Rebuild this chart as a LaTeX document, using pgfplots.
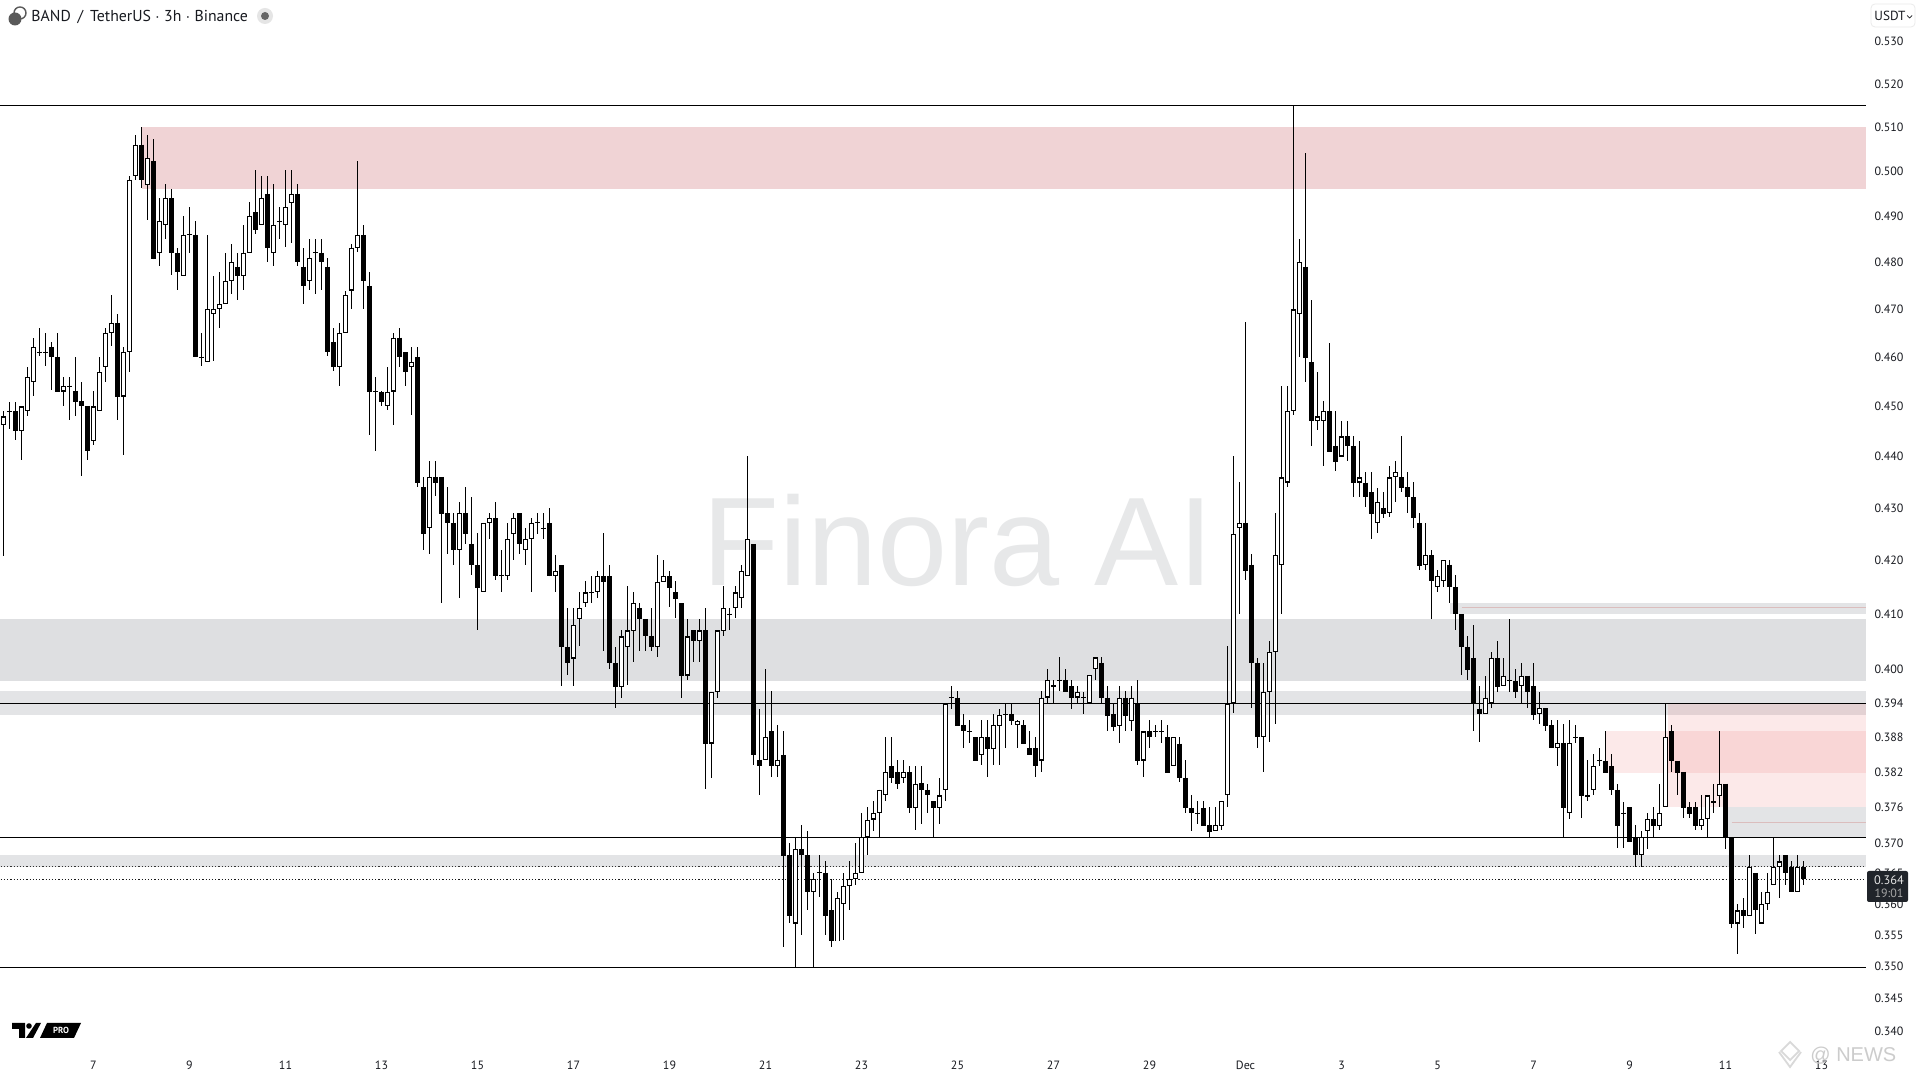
\documentclass[border=0pt]{standalone}
\usepackage{fontspec}
\usepackage{pgfplots}
\usepackage{pgfplotstable}
\pgfplotsset{compat=1.18}
\setmainfont{PT Sans}
\newfontfamily\wmfont{Liberation Sans}
\definecolor{redzone}{RGB}{240,211,213}
\definecolor{grayzone}{RGB}{222,223,225}
\definecolor{grayzoneb}{RGB}{227,228,230}
\definecolor{pinkzone}{RGB}{230,60,60}
\definecolor{wmark}{RGB}{231,232,233}
\definecolor{tagbg}{RGB}{32,36,42}
\definecolor{textc}{RGB}{24,26,32}

% i open high low close, 3h candles
\pgfplotstableread{
i o h l c
0 .4460 .4488 .4206 .4478
1 .4489 .4508 .4452 .4487
2 .4488 .4508 .4431 .4448
3 .4448 .4499 .4391 .4498
4 .4488 .4579 .4479 .4558
5 .4547 .4639 .4519 .4620
6 .4610 .4660 .4601 .4608
7 .4610 .4649 .4580 .4608
8 .4620 .4629 .4531 .4599
9 .4599 .4649 .4528 .4528
10 .4528 .4558 .4499 .4539
11 .4540 .4558 .4470 .4538
12 .4530 .4599 .4479 .4508
13 .4509 .4548 .4359 .4498
14 .4499 .4499 .4391 .4409
15 .4428 .4530 .4421 .4498
16 .4488 .4599 .4488 .4568
17 .4579 .4660 .4548 .4649
18 .4649 .4728 .4622 .4670
19 .4670 .4688 .4470 .4518
20 .4518 .4620 .4401 .4610
21 .4609 .4989 .4568 .4980
22 .4988 .5080 .4980 .5059
23 .5059 .5099 .4961 .4980
24 .4968 .5080 .4890 .5028
25 .5021 .5071 .4805 .4805
26 .4819 .4940 .4790 .4888
27 .4880 .4969 .4850 .4939
28 .4939 .4960 .4771 .4819
29 .4819 .4830 .4740 .4777
30 .4769 .4900 .4769 .4858
31 .4859 .4919 .4819 .4857
32 .4858 .4889 .4599 .4599
33 .4600 .4649 .4580 .4598
34 .4588 .4858 .4588 .4699
35 .4688 .4769 .4590 .4699
36 .4699 .4778 .4660 .4709
37 .4709 .4819 .4709 .4758
38 .4758 .4839 .4730 .4799
39 .4789 .4819 .4718 .4769
40 .4769 .4880 .4740 .4819
41 .4819 .4929 .4819 .4900
42 .4908 .5001 .4860 .4868
43 .4880 .4989 .4880 .4939
44 .4949 .4989 .4800 .4830
45 .4819 .4969 .4790 .4880
46 .4889 .4919 .4850 .4887
47 .4880 .5001 .4831 .4919
48 .4928 .5001 .4840 .4948
49 .4949 .4969 .4790 .4799
50 .4789 .4830 .4710 .4747
51 .4758 .4849 .4740 .4808
52 .4820 .4849 .4730 .4818
53 .4819 .4849 .4740 .4799
54 .4789 .4808 .4601 .4609
55 .4629 .4660 .4570 .4578
56 .4578 .4670 .4540 .4649
57 .4649 .4738 .4649 .4728
58 .4738 .4839 .4699 .4830
59 .4830 .5021 .4821 .4858
60 .4858 .4880 .4699 .4758
61 .4748 .4778 .4440 .4528
62 .4529 .4558 .4410 .4527
63 .4528 .4530 .4499 .4508
64 .4499 .4579 .4490 .4528
65 .4528 .4649 .4460 .4639
66 .4639 .4660 .4579 .4599
67 .4609 .4610 .4540 .4567
68 .4579 .4620 .4480 .4589
69 .4599 .4620 .4339 .4347
70 .4338 .4358 .4218 .4247
71 .4259 .4389 .4209 .4358
72 .4358 .4389 .4320 .4347
73 .4358 .4358 .4119 .4287
74 .4288 .4338 .4209 .4268
75 .4269 .4288 .4190 .4217
76 .4217 .4309 .4128 .4288
77 .4288 .4338 .4229 .4247
78 .4229 .4319 .4170 .4189
79 .4189 .4249 .4069 .4147
80 .4138 .4269 .4138 .4269
81 .4269 .4288 .4239 .4278
82 .4278 .4309 .4161 .4168
83 .4171 .4218 .4139 .4169
84 .4168 .4269 .4161 .4238
85 .4248 .4288 .4199 .4278
86 .4288 .4288 .4210 .4229
87 .4217 .4259 .4190 .4238
88 .4238 .4278 .4139 .4269
89 .4270 .4288 .4248 .4268
90 .4260 .4288 .4239 .4258
91 .4269 .4298 .4168 .4168
92 .4168 .4208 .4139 .4178
93 .4189 .4189 .3968 .4037
94 .4038 .4109 .3988 .4008
95 .4017 .4109 .3968 .4078
96 .4088 .4138 .4039 .4109
97 .4118 .4159 .4110 .4138
98 .4139 .4169 .4119 .4137
99 .4138 .4178 .4128 .4168
100 .4168 .4249 .4030 .4158
101 .4168 .4189 .3999 .4008
102 .4009 .4038 .3930 .3967
103 .3967 .4068 .3948 .4057
104 .4037 .4149 .3969 .4068
105 .4067 .4138 .4010 .4118
106 .4109 .4118 .4030 .4088
107 .4089 .4089 .4030 .4057
108 .4058 .4109 .4030 .4037
109 .4037 .4208 .4019 .4158
110 .4158 .4199 .4158 .4168
111 .4168 .4178 .4110 .4147
112 .4138 .4159 .4090 .4126
113 .4118 .4118 .3948 .3986
114 .3987 .4089 .3980 .4057
115 .4068 .4068 .4010 .4048
116 .4048 .4089 .4010 .4068
117 .4068 .4109 .3789 .3867
118 .3867 .3958 .3808 .3958
119 .3958 .4068 .3948 .4068
120 .4067 .4149 .4058 .4109
121 .4099 .4109 .4069 .4097
122 .4109 .4150 .4090 .4138
123 .4127 .4190 .4109 .4178
124 .4168 .4399 .4168 .4238
125 .4229 .4229 .3829 .3848
126 .3839 .3928 .3779 .3828
127 .3839 .3999 .3839 .3878
128 .3888 .3959 .3809 .3828
129 .3828 .3899 .3809 .3839
130 .3848 .3888 .3530 .3677
131 .3678 .3698 .3568 .3579
132 .3567 .3708 .3497 .3688
133 .3688 .3728 .3549 .3678
134 .3678 .3718 .3589 .3617
135 .3617 .3649 .3497 .3639
136 .3650 .3679 .3609 .3648
137 .3649 .3669 .3549 .3579
138 .3588 .3639 .3530 .3538
139 .3538 .3617 .3538 .3608
140 .3598 .3649 .3540 .3628
141 .3628 .3669 .3589 .3639
142 .3639 .3698 .3629 .3649
143 .3649 .3748 .3649 .3708
144 .3708 .3758 .3679 .3737
145 .3737 .3768 .3718 .3748
146 .3748 .3788 .3708 .3788
147 .3778 .3878 .3769 .3818
148 .3828 .3878 .3799 .3807
149 .3818 .3839 .3789 .3798
150 .3808 .3839 .3799 .3818
151 .3818 .3828 .3749 .3757
152 .3757 .3828 .3719 .3798
153 .3799 .3828 .3729 .3788
154 .3788 .3798 .3749 .3778
155 .3768 .3768 .3708 .3757
156 .3757 .3808 .3729 .3778
157 .3788 .3937 .3769 .3937
158 .3949 .3968 .3928 .3947
159 .3948 .3959 .3898 .3898
160 .3899 .3918 .3860 .3888
161 .3889 .3908 .3868 .3887
162 .3878 .3878 .3838 .3838
163 .3848 .3908 .3829 .3878
164 .3878 .3908 .3809 .3858
165 .3858 .3918 .3829 .3899
166 .3898 .3928 .3829 .3917
167 .3919 .3937 .3860 .3917
168 .3918 .3937 .3899 .3907
169 .3899 .3908 .3860 .3907
170 .3899 .3908 .3867 .3867
171 .3859 .3888 .3848 .3848
172 .3859 .3878 .3809 .3828
173 .3838 .3959 .3819 .3948
174 .3948 .3999 .3937 .3979
175 .3969 .3979 .3937 .3967
176 .3980 .4019 .3959 .3978
177 .3979 .3999 .3958 .3958
178 .3968 .3979 .3928 .3947
179 .3948 .3968 .3937 .3958
180 .3949 .3958 .3918 .3947
181 .3937 .3988 .3937 .3988
182 .3998 .4019 .3979 .4019
183 .4009 .4019 .3937 .3947
184 .3948 .3968 .3888 .3916
185 .3918 .3937 .3888 .3897
186 .3898 .3968 .3868 .3948
187 .3948 .3959 .3888 .3916
188 .3907 .3968 .3888 .3948
189 .3937 .3979 .3829 .3838
190 .3838 .3888 .3809 .3888
191 .3888 .3908 .3860 .3878
192 .3889 .3899 .3879 .3887
193 .3889 .3908 .3868 .3887
194 .3878 .3899 .3817 .3817
195 .3828 .3878 .3828 .3878
196 .3867 .3878 .3800 .3807
197 .3808 .3839 .3749 .3757
198 .3757 .3778 .3718 .3748
199 .3749 .3768 .3729 .3747
200 .3757 .3768 .3727 .3727
201 .3728 .3758 .3708 .3717
202 .3718 .3758 .3718 .3728
203 .3727 .3768 .3719 .3768
204 .3778 .4039 .3759 .3937
205 .3937 .4399 .3920 .4248
206 .4259 .4349 .4099 .4269
207 .4269 .4672 .4161 .4178
208 .4190 .4209 .3930 .4008
209 .4009 .4018 .3860 .3878
210 .3878 .4009 .3818 .3958
211 .3958 .4049 .3869 .4029
212 .4029 .4288 .3900 .4208
213 .4189 .4539 .4099 .4357
214 .4347 .4540 .4339 .4488
215 .4488 .5149 .4480 .4698
216 .4688 .4849 .4599 .4799
217 .4789 .5040 .4548 .4597
218 .4588 .4718 .4419 .4468
219 .4468 .4568 .4450 .4478
220 .4468 .4509 .4380 .4488
221 .4488 .4627 .4408 .4408
222 .4419 .4488 .4369 .4388
223 .4398 .4469 .4398 .4438
224 .4438 .4469 .4390 .4418
225 .4419 .4438 .4319 .4347
226 .4347 .4429 .4319 .4357
227 .4347 .4367 .4299 .4318
228 .4328 .4367 .4239 .4287
229 .4268 .4337 .4249 .4309
230 .4298 .4328 .4278 .4287
231 .4288 .4380 .4280 .4357
232 .4357 .4389 .4310 .4367
233 .4357 .4438 .4329 .4336
234 .4338 .4367 .4288 .4318
235 .4318 .4348 .4260 .4278
236 .4269 .4288 .4179 .4188
237 .4189 .4269 .4179 .4208
238 .4208 .4218 .4089 .4159
239 .4148 .4179 .4139 .4168
240 .4159 .4198 .4148 .4198
241 .4190 .4199 .4118 .4148
242 .4148 .4170 .4069 .4098
243 .4098 .4098 .3988 .4037
244 .4038 .4058 .3979 .3997
245 .4018 .4077 .3889 .3937
246 .3928 .3968 .3869 .3918
247 .3918 .3987 .3918 .3948
248 .3937 .4029 .3929 .4018
249 .4018 .4049 .3958 .3967
250 .3968 .4018 .3968 .3987
251 .3979 .4089 .3958 .3977
252 .3978 .3999 .3948 .3958
253 .3968 .4009 .3937 .3987
254 .3987 .3987 .3929 .3958
255 .3968 .4009 .3908 .3917
256 .3918 .3958 .3900 .3929
257 .3929 .3929 .3889 .3898
258 .3899 .3908 .3859 .3859
259 .3859 .3908 .3828 .3868
260 .3868 .3900 .3708 .3757
261 .3748 .3908 .3738 .3868
262 .3879 .3899 .3868 .3877
263 .3878 .3878 .3739 .3777
264 .3778 .3839 .3769 .3776
265 .3788 .3849 .3778 .3828
266 .3839 .3859 .3828 .3837
267 .3838 .3888 .3817 .3817
268 .3828 .3849 .3778 .3788
269 .3788 .3798 .3690 .3727
270 .3749 .3767 .3690 .3747
271 .3758 .3758 .3700 .3700
272 .3708 .3728 .3659 .3678
273 .3678 .3718 .3659 .3708
274 .3718 .3748 .3689 .3738
275 .3738 .3758 .3708 .3727
276 .3727 .3798 .3719 .3748
277 .3758 .3937 .3758 .3878
278 .3888 .3899 .3819 .3838
279 .3838 .3838 .3778 .3817
280 .3818 .3818 .3739 .3757
281 .3758 .3767 .3739 .3747
282 .3758 .3767 .3719 .3727
283 .3727 .3778 .3719 .3738
284 .3738 .3778 .3708 .3778
285 .3768 .3798 .3748 .3766
286 .3777 .3888 .3758 .3798
287 .3798 .3798 .3689 .3708
288 .3708 .3708 .3559 .3567
289 .3567 .3598 .3519 .3588
290 .3588 .3608 .3559 .3579
291 .3579 .3679 .3579 .3659
292 .3649 .3649 .3550 .3588
293 .3567 .3618 .3567 .3598
294 .3598 .3649 .3589 .3618
295 .3629 .3708 .3629 .3659
296 .3659 .3679 .3608 .3668
297 .3678 .3678 .3629 .3648
298 .3659 .3668 .3618 .3618
299 .3618 .3679 .3618 .3659
300 .3659 .3668 .3630 .3639
}\candles

\begin{document}
\begin{tikzpicture}
\useasboundingbox (0,0) rectangle (960pt,540pt);
\fill[white] (0,0) rectangle (960pt,540pt);
% watermark behind everything
\begin{scope}[x=0.5pt,y=-0.5pt,yshift=540pt]
\node[text=wmark,font=\wmfont\fontsize{63}{63}\selectfont,anchor=center,inner sep=0pt] at (958,540) {Finora AI};
\end{scope}

\begin{axis}[
    at={(0,0)}, anchor=south west,
    scale only axis, width=960pt, height=540pt,
    ymode=log,
    xmin=-0.5833, xmax=319.4167,
    ymin=0.3325, ymax=0.5398,
    axis line style={draw=none},
    major tick length=0pt,
    minor tick length=0pt,
    ytick pos=right,
    xtick pos=bottom,
    log basis y=10,
    ytick={0.530,0.520,0.510,0.500,0.490,0.480,0.470,0.460,0.450,0.440,0.430,0.420,0.410,0.400,0.394,0.388,0.382,0.376,0.370,0.365,0.360,0.355,0.350,0.345,0.340},
    yticklabels={0.530,0.520,0.510,0.500,0.490,0.480,0.470,0.460,0.450,0.440,0.430,0.420,0.410,0.400,0.394,0.388,0.382,0.376,0.370,0.365,0.360,0.355,0.350,0.345,0.340},
    minor ytick={},
    xtick={15,31,47,63,79,95,111,127,143,159,175,191,207,223,239,255,271,287,303},
    xticklabels={7,9,11,13,15,17,19,21,23,25,27,29,Dec,3,5,7,9,11,13},
    yticklabel style={font=\fontsize{6}{7}\selectfont,text=textc,anchor=center,xshift=-15.5pt,yshift=-0.5pt},
    xticklabel style={font=\fontsize{6}{7}\selectfont,text=textc,anchor=center,yshift=7.5pt},
    clip=true,
]
% zones
\addplot[draw=none,fill=redzone,forget plot] coordinates {(23,0.5099)(310.4,0.5099)(310.4,0.4959)(23,0.4959)} --cycle;
\addplot[draw=none,fill=grayzone,forget plot] coordinates {(-1,0.4089)(310.4,0.4089)(310.4,0.3978)(-1,0.3978)} --cycle;
\addplot[draw=none,fill=grayzoneb,forget plot] coordinates {(-1,0.3959)(310.4,0.3959)(310.4,0.3917)(-1,0.3917)} --cycle;
\addplot[draw=none,fill=grayzoneb,forget plot] coordinates {(-1,0.3679)(310.4,0.3679)(310.4,0.3659)(-1,0.3659)} --cycle;
\addplot[draw=none,fill=grayzoneb,forget plot] coordinates {(241,0.4118)(310.4,0.4118)(310.4,0.4099)(241,0.4099)} --cycle;
\addplot[draw=none,fill=pinkzone,fill opacity=0.11,forget plot] coordinates {(277.4,0.3937)(310.4,0.3937)(310.4,0.3758)(277.4,0.3758)} --cycle;
\addplot[draw=none,fill=pinkzone,fill opacity=0.11,forget plot] coordinates {(267,0.3889)(310.4,0.3889)(310.4,0.3817)(267,0.3817)} --cycle;
\addplot[draw=none,fill=grayzoneb,forget plot] coordinates {(286.5,0.3758)(310.4,0.3758)(310.4,0.3708)(286.5,0.3708)} --cycle;
% thin red lines inside the small zones
\addplot[draw=red!30!gray!40,line width=0.3pt,forget plot] coordinates {(243,0.4110)(310.4,0.4110)};
\addplot[draw=red!30!gray!40,line width=0.3pt,forget plot] coordinates {(288,0.3733)(310.4,0.3733)};
% levels
\addplot[black,line width=0.55pt,forget plot] coordinates {(-1,0.5149)(310.4,0.5149)};
\addplot[black,line width=0.55pt,forget plot] coordinates {(-1,0.3937)(310.4,0.3937)};
\addplot[black,line width=0.55pt,forget plot] coordinates {(-1,0.3708)(310.4,0.3708)};
\addplot[black,line width=0.55pt,forget plot] coordinates {(-1,0.3497)(310.4,0.3497)};
\addplot[black!80,line width=0.4pt,dash pattern=on 0.6pt off 1pt,forget plot] coordinates {(-1,0.3659)(310.4,0.3659)};
\addplot[black!90,line width=0.4pt,dash pattern=on 0.6pt off 1pt,forget plot] coordinates {(-1,0.3639)(310.4,0.3639)};
% wicks
\addplot[draw=none,mark=none,forget plot,
    error bars/.cd,y dir=both,y explicit,error mark=none,
    error bar style={line width=0.55pt,draw=black}]
  table[x=i,y=c,y error plus expr=\thisrow{h}-\thisrow{c},y error minus expr=\thisrow{c}-\thisrow{l}] {\candles};
% bodies, black for all
\addplot[draw=none,mark=none,forget plot,
    error bars/.cd,y dir=minus,y explicit,error mark=none,
    error bar style={line width=2.4pt,draw=black}]
  table[x=i,y expr={max(\thisrow{o},\thisrow{c})},y error minus expr={abs(\thisrow{o}-\thisrow{c})}] {\candles};
% hollow inside of the up candles
\addplot[draw=none,mark=none,forget plot,unbounded coords=discard,
    error bars/.cd,y dir=minus,y explicit,error mark=none,
    error bar style={line width=1.2pt,draw=white}]
  table[x=i,y expr={\thisrow{c}>\thisrow{o} ? \thisrow{c}*0.9995 : nan},y error minus expr={\thisrow{c}*0.9995-\thisrow{o}*1.0005}] {\candles};
\end{axis}

% header, logo, price tag
\begin{scope}[x=0.5pt,y=-0.5pt,yshift=540pt]
\fill[black!65] (15,19) circle (6.5);
\draw[black!65,line width=0.7pt] (20,13) circle (6);
\node[anchor=west,inner sep=0pt,text=textc,font=\fontsize{7.9}{9}\selectfont] at (31,17) {BAND \,/\, TetherUS $\cdot$ 3h $\cdot$ Binance};
\fill[black!10] (265,16) circle (8);
\fill[black!60] (265,16) circle (4);
% USDT box
\draw[black!8,rounded corners=2pt,line width=0.4pt] (1871,4) rectangle (1915,27);
\node[anchor=west,inner sep=0pt,text=textc,font=\fontsize{6.6}{8}\selectfont] at (1874,16) {USDT};
\draw[textc,line width=0.35pt] (1907,15.5) -- (1909.5,18) -- (1912,15.5);
% TV PRO logo
\fill[black] (12,1023) -- (25,1023) -- (25,1038) -- (19,1038) -- (19,1029) -- (12,1029) -- cycle;
\fill[black] (29,1026) circle (2.8);
\fill[black] (36,1023) -- (41,1023) -- (33,1038) -- (26,1038) -- cycle;
\fill[black] (47,1023) -- (81,1023) -- (74,1038) -- (40,1038) -- cycle;
\node[text=white,inner sep=0pt,font=\bfseries\fontsize{4.4}{5}\selectfont] at (61,1030.5) {PRO};
% price tag
\fill[tagbg,rounded corners=1pt] (1867,871) rectangle (1908,902);
\node[text=white!90!black,inner sep=0pt,font=\fontsize{6.2}{7}\selectfont] at (1889,880) {0.364};
\node[text=white!65!black,inner sep=0pt,font=\fontsize{6}{7}\selectfont] at (1889,893) {19:01};
% corner watermark
\draw[black!15,line width=0.9pt] (1790,1042) -- (1799,1051) -- (1790,1060) -- (1781,1051) -- cycle;
\draw[black!15,line width=0.9pt] (1779,1052) -- (1790,1067) -- (1801,1052);
\node[anchor=west,inner sep=0pt,text=black!20,font=\wmfont\fontsize{10}{12}\selectfont] at (1810,1056) {@ NEWS};
\end{scope}
\end{tikzpicture}
\end{document}
